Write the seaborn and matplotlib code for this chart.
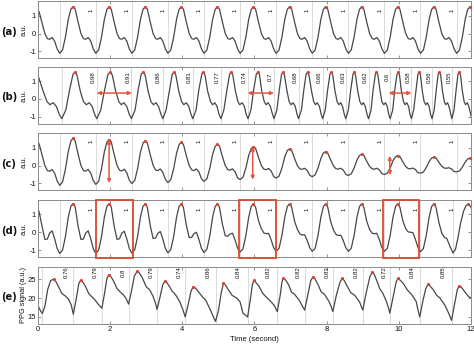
import matplotlib
matplotlib.use("Agg")
import matplotlib.pyplot as plt
import seaborn as sns
from matplotlib.patches import Rectangle

# ---------------- data ----------------
# common time grid for panels (a) and (c): beats with troughs at ~0.6 s + k
time_ac = [
    0.00, 0.03, 0.11, 0.19, 0.26, 0.32, 0.39, 0.46, 0.53,
    0.60, 0.68, 0.76, 0.84, 0.91, 0.97, 1.03, 1.11, 1.19, 1.26, 1.32, 1.39, 1.46, 1.53,
    1.60, 1.68, 1.76, 1.84, 1.91, 1.97, 2.03, 2.11, 2.19, 2.26, 2.32, 2.39, 2.46, 2.53,
    2.60, 2.68, 2.76, 2.84, 2.91, 2.97, 3.03, 3.11, 3.19, 3.26, 3.32, 3.39, 3.46, 3.53,
    3.60, 3.68, 3.76, 3.84, 3.91, 3.97, 4.03, 4.11, 4.19, 4.26, 4.32, 4.39, 4.46, 4.53,
    4.60, 4.68, 4.76, 4.84, 4.91, 4.97, 5.03, 5.11, 5.19, 5.26, 5.32, 5.39, 5.46, 5.53,
    5.60, 5.68, 5.76, 5.84, 5.91, 5.97, 6.03, 6.11, 6.19, 6.26, 6.32, 6.39, 6.46, 6.53,
    6.60, 6.68, 6.76, 6.84, 6.91, 6.97, 7.03, 7.11, 7.19, 7.26, 7.32, 7.39, 7.46, 7.53,
    7.60, 7.68, 7.76, 7.84, 7.91, 7.97, 8.03, 8.11, 8.19, 8.26, 8.32, 8.39, 8.46, 8.53,
    8.60, 8.68, 8.76, 8.84, 8.91, 8.97, 9.03, 9.11, 9.19, 9.26, 9.32, 9.39, 9.46, 9.53,
    9.60, 9.68, 9.76, 9.84, 9.91, 9.97, 10.03, 10.11, 10.19, 10.26, 10.32, 10.39, 10.46, 10.53,
    10.60, 10.68, 10.76, 10.84, 10.91, 10.97, 11.03, 11.11, 11.19, 11.26, 11.32, 11.39, 11.46, 11.53,
    11.60, 11.68, 11.76, 11.84, 11.91, 11.97, 12.03,
]

a_vals = [
    1.30, 1.22, 0.60, 0.00, -0.28, -0.32, -0.22, -0.42, -0.85,
    -1.10, -0.92, -0.20, 0.80, 1.35, 1.50, 1.36, 0.65, 0.00, -0.28, -0.32, -0.22, -0.42, -0.85,
    -1.10, -0.92, -0.20, 0.80, 1.35, 1.50, 1.36, 0.65, 0.00, -0.28, -0.32, -0.22, -0.42, -0.85,
    -1.10, -0.92, -0.20, 0.80, 1.35, 1.50, 1.36, 0.65, 0.00, -0.28, -0.32, -0.22, -0.42, -0.85,
    -1.10, -0.92, -0.20, 0.80, 1.35, 1.50, 1.36, 0.65, 0.00, -0.28, -0.32, -0.22, -0.42, -0.85,
    -1.10, -0.92, -0.20, 0.80, 1.35, 1.50, 1.36, 0.65, 0.00, -0.28, -0.32, -0.22, -0.42, -0.85,
    -1.10, -0.92, -0.20, 0.80, 1.35, 1.50, 1.36, 0.65, 0.00, -0.28, -0.32, -0.22, -0.42, -0.85,
    -1.10, -0.92, -0.20, 0.80, 1.35, 1.50, 1.36, 0.65, 0.00, -0.28, -0.32, -0.22, -0.42, -0.85,
    -1.10, -0.92, -0.20, 0.80, 1.35, 1.50, 1.36, 0.65, 0.00, -0.28, -0.32, -0.22, -0.42, -0.85,
    -1.10, -0.92, -0.20, 0.80, 1.35, 1.50, 1.36, 0.65, 0.00, -0.28, -0.32, -0.22, -0.42, -0.85,
    -1.10, -0.92, -0.20, 0.80, 1.35, 1.50, 1.36, 0.65, 0.00, -0.28, -0.32, -0.22, -0.42, -0.85,
    -1.10, -0.92, -0.20, 0.80, 1.35, 1.50, 1.36, 0.65, 0.00, -0.28, -0.32, -0.22, -0.42, -0.85,
    -1.10, -0.92, -0.20, 0.80, 1.35, 1.50, 1.36,
]

c_vals = [
    1.30, 1.22, 0.60, 0.00, -0.28, -0.32, -0.22, -0.42, -0.85,
    -1.10, -0.92, -0.20, 0.80, 1.36, 1.52, 1.37, 0.65, 0.00, -0.28, -0.31, -0.21, -0.41, -0.83,
    -1.05, -0.88, -0.18, 0.78, 1.31, 1.45, 1.32, 0.63, 0.01, -0.26, -0.30, -0.20, -0.40, -0.81,
    -1.00, -0.84, -0.17, 0.75, 1.25, 1.39, 1.26, 0.61, 0.01, -0.25, -0.28, -0.19, -0.38, -0.77,
    -0.95, -0.79, -0.17, 0.69, 1.17, 1.30, 1.18, 0.56, 0.00, -0.24, -0.28, -0.19, -0.36, -0.73,
    -0.88, -0.74, -0.16, 0.63, 1.07, 1.19, 1.08, 0.51, 0.00, -0.23, -0.26, -0.18, -0.34, -0.68,
    -0.78, -0.65, -0.14, 0.57, 0.95, 1.06, 0.96, 0.46, 0.00, -0.20, -0.23, -0.16, -0.30, -0.60,
    -0.70, -0.59, -0.14, 0.49, 0.84, 0.93, 0.84, 0.40, -0.01, -0.19, -0.21, -0.15, -0.27, -0.54,
    -0.62, -0.52, -0.14, 0.40, 0.70, 0.78, 0.70, 0.32, -0.03, -0.18, -0.20, -0.15, -0.25, -0.49,
    -0.55, -0.47, -0.14, 0.31, 0.56, 0.63, 0.57, 0.24, -0.05, -0.18, -0.20, -0.15, -0.24, -0.44,
    -0.50, -0.43, -0.13, 0.28, 0.50, 0.56, 0.50, 0.21, -0.05, -0.17, -0.18, -0.14, -0.22, -0.40,
    -0.42, -0.36, -0.11, 0.23, 0.42, 0.47, 0.42, 0.18, -0.04, -0.14, -0.15, -0.12, -0.19, -0.33,
    -0.35, -0.30, -0.09, 0.20, 0.37, 0.41, 0.37,
]

d_time = [
    0.00, 0.03, 0.11, 0.19, 0.26, 0.32, 0.39, 0.46, 0.53,
    0.60, 0.68, 0.76, 0.84, 0.91, 0.97, 1.03, 1.11, 1.19, 1.26, 1.32, 1.39, 1.46, 1.53,
    1.60, 1.68, 1.76, 1.84, 1.91, 1.97, 2.03, 2.11, 2.19, 2.26, 2.32, 2.39, 2.46, 2.53,
    2.60, 2.68, 2.76, 2.84, 2.91, 2.97, 3.03, 3.11, 3.19, 3.26, 3.32, 3.39, 3.46, 3.53,
    3.60, 3.68, 3.76, 3.84, 3.91, 3.97, 4.03, 4.11, 4.19, 4.26, 4.32, 4.39, 4.46, 4.53,
    4.60, 4.68, 4.76, 4.84, 4.91, 4.97, 5.03, 5.11, 5.19, 5.26, 5.32, 5.39, 5.46, 5.53,
    5.60, 5.68, 5.76, 5.84, 5.91, 5.97, 6.03, 6.11, 6.19, 6.26, 6.32, 6.39, 6.46, 6.53,
    6.60, 6.68, 6.76, 6.84, 6.91, 6.97, 7.03, 7.11, 7.19, 7.26, 7.32, 7.39, 7.46, 7.53,
    7.60, 7.68, 7.76, 7.84, 7.91, 7.97, 8.03, 8.11, 8.19, 8.26, 8.32, 8.39, 8.46, 8.53,
    8.60, 8.68, 8.76, 8.84, 8.91, 8.97, 9.03, 9.11, 9.19, 9.26, 9.32, 9.39, 9.46, 9.53,
    9.60, 9.68, 9.76, 9.84, 9.91, 9.97, 10.03, 10.11, 10.19, 10.26, 10.32, 10.39, 10.46, 10.53,
    10.60, 10.68, 10.76, 10.84, 10.91, 10.97, 11.03, 11.11, 11.19, 11.26, 11.33, 11.41,
    11.50, 11.57, 11.64, 11.71, 11.79, 11.86, 11.93, 12.00, 12.05,
]

d_vals = [
    1.28, 1.15, 0.35, -0.40, -0.38, -0.05, 0.08, -0.35, -0.90,
    -1.18, -1.00, -0.25, 0.85, 1.45, 1.60, 1.42, 0.35, -0.40, -0.38, -0.05, 0.08, -0.35, -0.90,
    -1.18, -1.00, -0.25, 0.85, 1.45, 1.60, 1.42, 0.35, -0.40, -0.36, -0.05, 0.06, -0.36, -0.90,
    -1.16, -0.98, -0.24, 0.85, 1.45, 1.58, 1.40, 0.38, -0.35, -0.32, -0.06, 0.04, -0.38, -0.90,
    -1.15, -0.97, -0.24, 0.85, 1.44, 1.58, 1.40, 0.40, -0.30, -0.28, -0.08, 0.00, -0.40, -0.90,
    -1.13, -0.95, -0.22, 0.85, 1.44, 1.58, 1.40, 0.45, -0.20, -0.22, -0.10, -0.05, -0.42, -0.88,
    -1.10, -0.93, -0.20, 0.85, 1.44, 1.58, 1.40, 0.65, 0.20, -0.04, -0.08, -0.06, -0.42, -0.85,
    -1.06, -0.90, -0.18, 0.85, 1.44, 1.58, 1.40, 0.62, 0.15, -0.10, -0.15, -0.14, -0.45, -0.86,
    -1.06, -0.90, -0.18, 0.85, 1.44, 1.58, 1.40, 0.60, 0.12, -0.12, -0.18, -0.16, -0.46, -0.86,
    -1.06, -0.90, -0.18, 0.85, 1.44, 1.58, 1.40, 0.62, 0.15, -0.05, -0.08, -0.06, -0.42, -0.86,
    -1.06, -0.90, -0.18, 0.85, 1.44, 1.58, 1.40, 0.65, 0.20, 0.02, 0.00, -0.02, -0.40, -0.85,
    -1.08, -0.91, -0.18, 0.85, 1.44, 1.58, 1.40, 0.55, -0.05, -0.28, -0.35, -0.75,
    -1.16, -0.95, -0.30, 0.50, 1.15, 1.48, 1.58, 1.40, 1.15,
]

b_time = [
    0.00, 0.14, 0.25, 0.33, 0.42, 0.51, 0.59,
    0.66, 0.77, 0.88, 0.97, 1.02, 1.08, 1.17, 1.26, 1.34, 1.42, 1.50, 1.57,
    1.63, 1.74, 1.85, 1.94, 2.00, 2.06, 2.15, 2.24, 2.31, 2.38, 2.46, 2.53,
    2.59, 2.69, 2.78, 2.86, 2.91, 2.97, 3.05, 3.13, 3.20, 3.27, 3.34, 3.41,
    3.46, 3.55, 3.65, 3.72, 3.77, 3.82, 3.90, 3.98, 4.04, 4.11, 4.18, 4.24,
    4.29, 4.38, 4.46, 4.54, 4.58, 4.63, 4.70, 4.78, 4.84, 4.90, 4.96, 5.02,
    5.07, 5.15, 5.24, 5.31, 5.35, 5.40, 5.47, 5.54, 5.59, 5.66, 5.72, 5.77,
    5.82, 5.90, 5.98, 6.05, 6.09, 6.14, 6.20, 6.27, 6.32, 6.38, 6.44, 6.50,
    6.54, 6.62, 6.69, 6.75, 6.79, 6.83, 6.90, 6.96, 7.01, 7.07, 7.13, 7.18,
    7.22, 7.30, 7.37, 7.43, 7.47, 7.51, 7.58, 7.64, 7.69, 7.74, 7.80, 7.85,
    7.89, 7.96, 8.03, 8.09, 8.13, 8.17, 8.23, 8.29, 8.34, 8.39, 8.44, 8.49,
    8.53, 8.60, 8.67, 8.73, 8.76, 8.80, 8.86, 8.92, 8.97, 9.02, 9.07, 9.12,
    9.16, 9.23, 9.29, 9.35, 9.38, 9.42, 9.48, 9.53, 9.58, 9.63, 9.68, 9.72,
    9.76, 9.83, 9.89, 9.95, 9.98, 10.02, 10.07, 10.13, 10.17, 10.22, 10.27, 10.31,
    10.35, 10.41, 10.48, 10.53, 10.56, 10.60, 10.65, 10.70, 10.75, 10.79, 10.84, 10.88,
    10.92, 10.98, 11.04, 11.09, 11.12, 11.16, 11.21, 11.26, 11.30, 11.35, 11.39, 11.44,
    11.47, 11.53, 11.59, 11.64, 11.67, 11.71, 11.76, 11.81, 11.85, 11.90, 11.94, 11.99,
    12.02,
]

b_vals = [
    1.32, 0.45, -0.15, -0.32, -0.21, -0.42, -0.86,
    -1.10, -0.62, 0.55, 1.38, 1.50, 1.33, 0.45, -0.15, -0.32, -0.21, -0.42, -0.86,
    -1.10, -0.62, 0.55, 1.38, 1.50, 1.33, 0.45, -0.15, -0.32, -0.21, -0.42, -0.86,
    -1.10, -0.62, 0.55, 1.38, 1.50, 1.33, 0.45, -0.15, -0.32, -0.21, -0.42, -0.86,
    -1.10, -0.62, 0.55, 1.38, 1.50, 1.33, 0.45, -0.15, -0.32, -0.21, -0.42, -0.86,
    -1.10, -0.62, 0.55, 1.38, 1.50, 1.33, 0.45, -0.15, -0.32, -0.21, -0.42, -0.86,
    -1.10, -0.62, 0.55, 1.38, 1.50, 1.33, 0.45, -0.15, -0.32, -0.21, -0.42, -0.86,
    -1.10, -0.62, 0.55, 1.38, 1.50, 1.33, 0.45, -0.15, -0.32, -0.21, -0.42, -0.86,
    -1.10, -0.62, 0.55, 1.38, 1.50, 1.33, 0.45, -0.15, -0.32, -0.21, -0.42, -0.86,
    -1.10, -0.62, 0.55, 1.38, 1.50, 1.33, 0.45, -0.15, -0.32, -0.21, -0.42, -0.86,
    -1.10, -0.62, 0.55, 1.38, 1.50, 1.33, 0.45, -0.15, -0.32, -0.21, -0.42, -0.86,
    -1.10, -0.62, 0.55, 1.38, 1.50, 1.33, 0.45, -0.15, -0.32, -0.21, -0.42, -0.86,
    -1.10, -0.62, 0.55, 1.38, 1.50, 1.33, 0.45, -0.15, -0.32, -0.21, -0.42, -0.86,
    -1.10, -0.62, 0.55, 1.38, 1.50, 1.33, 0.45, -0.15, -0.32, -0.21, -0.42, -0.86,
    -1.10, -0.62, 0.55, 1.38, 1.50, 1.33, 0.45, -0.15, -0.32, -0.21, -0.42, -0.86,
    -1.10, -0.62, 0.55, 1.38, 1.50, 1.33, 0.45, -0.15, -0.32, -0.21, -0.42, -0.86,
    -1.10, -0.62, 0.55, 1.38, 1.50, 1.33, 0.45, -0.15, -0.32, -0.21, -0.42, -0.86,
    -1.10,
]

e_time = [
    0.00, 0.06, 0.12, 0.19, 0.27, 0.35, 0.43, 0.50, 0.58, 0.66, 0.75, 0.84, 0.92, 0.98,
    1.06, 1.13, 1.18, 1.25, 1.32, 1.41, 1.49, 1.57, 1.65, 1.72, 1.77,
    1.84, 1.91, 1.96, 2.03, 2.10, 2.19, 2.28, 2.36, 2.44, 2.51,
    2.59, 2.67, 2.75, 2.81, 2.89, 3.00, 3.10, 3.19, 3.25, 3.30,
    3.38, 3.46, 3.52, 3.58, 3.65, 3.72, 3.81, 3.93, 4.02, 4.08,
    4.16, 4.24, 4.30, 4.37, 4.45, 4.55, 4.65, 4.78, 4.86, 4.92,
    5.00, 5.08, 5.14, 5.20, 5.26, 5.38, 5.52, 5.60, 5.68, 5.81,
    5.89, 5.94, 5.98, 6.04, 6.12, 6.23, 6.32, 6.45, 6.55, 6.63,
    6.71, 6.76, 6.80, 6.86, 6.94, 7.03, 7.11, 7.24, 7.33, 7.39,
    7.48, 7.56, 7.62, 7.68, 7.76, 7.85, 7.94, 8.07, 8.13, 8.17,
    8.27, 8.37, 8.43, 8.49, 8.56, 8.67, 8.78, 8.91, 8.96, 9.00,
    9.10, 9.20, 9.26, 9.32, 9.39, 9.47, 9.56, 9.66, 9.72, 9.75,
    9.85, 9.93, 9.98, 10.04, 10.12, 10.24, 10.35, 10.48, 10.54, 10.58,
    10.67, 10.75, 10.81, 10.87, 10.94, 11.05, 11.14, 11.27, 11.38, 11.46,
    11.55, 11.62, 11.67, 11.73, 11.80, 11.93, 12.00,
]

e_vals = [
    18.0, 16.8, 15.9, 17.8, 22.3, 24.6, 25.0, 24.3, 22.8, 21.2, 20.6, 19.8, 18.2, 15.7,
    19.8, 23.8, 24.7, 24.1, 23.0, 21.1, 20.4, 19.6, 18.6, 17.8, 17.3,
    21.0, 25.2, 26.2, 25.5, 24.4, 22.5, 21.6, 20.9, 19.9, 18.4,
    21.8, 25.8, 27.1, 26.6, 25.4, 23.0, 22.1, 20.4, 18.8, 17.0,
    20.2, 23.6, 24.5, 24.0, 22.9, 21.8, 20.9, 19.0, 16.8, 15.0,
    18.2, 21.8, 23.0, 22.6, 21.6, 20.4, 19.4, 16.8, 15.0, 13.8,
    16.6, 21.5, 23.9, 23.4, 22.4, 20.7, 19.9, 19.0, 16.0, 15.0,
    20.0, 23.5, 24.7, 24.1, 23.2, 21.2, 20.3, 19.1, 18.0, 16.4,
    20.6, 24.2, 25.3, 24.8, 23.6, 21.5, 21.0, 19.4, 17.8, 16.8,
    21.0, 24.6, 25.6, 25.0, 23.6, 21.6, 21.0, 19.0, 17.6, 16.4,
    20.8, 24.2, 25.2, 24.6, 23.3, 21.4, 20.7, 19.0, 17.8, 16.8,
    21.6, 25.7, 26.9, 26.2, 24.6, 22.5, 21.2, 19.0, 17.2, 16.0,
    20.6, 24.4, 25.2, 24.7, 23.9, 22.1, 21.0, 19.1, 16.5, 15.0,
    19.4, 22.6, 23.6, 23.1, 22.4, 20.7, 20.0, 18.2, 16.0, 14.1,
    18.6, 22.2, 23.2, 22.9, 22.0, 20.4, 20.0,
]

# detected peaks (red dots)
peak_t_ac = [0.97, 1.97, 2.97, 3.97, 4.97, 5.97, 6.97, 7.97, 8.97, 9.97, 10.97, 11.97]
peak_a = [1.50, 1.50, 1.50, 1.50, 1.50, 1.50, 1.50, 1.50, 1.50, 1.50, 1.50, 1.50]
peak_c = [1.52, 1.45, 1.39, 1.30, 1.19, 1.06, 0.93, 0.78, 0.63, 0.56, 0.47, 0.41]
peak_t_d = [0.97, 1.97, 2.97, 3.97, 4.97, 5.97, 6.97, 7.97, 8.97, 9.97, 10.97, 11.93]
peak_d = [1.60, 1.60, 1.58, 1.58, 1.58, 1.58, 1.58, 1.58, 1.58, 1.58, 1.58, 1.58]
peak_t_b = [1.02, 2.00, 2.91, 3.77, 4.58, 5.35, 6.09, 6.79, 7.47, 8.13, 8.76, 9.38,
            9.98, 10.56, 11.12, 11.67]
peak_b = [1.50] * 16
peak_t_e = [0.43, 1.18, 1.96, 2.75, 3.52, 4.30, 5.14, 5.98, 6.80, 7.62, 8.43, 9.26,
            9.98, 10.81, 11.67]
peak_e = [25.0, 24.7, 26.2, 27.1, 24.5, 23.0, 23.9, 24.7, 25.3, 25.6, 25.2, 26.9,
          25.2, 23.6, 23.2]

# beat onsets (gray vertical lines)
onset_ac = [0.60, 1.60, 2.60, 3.60, 4.60, 5.60, 6.60, 7.60, 8.60, 9.60, 10.60, 11.60]
onset_d = [0.60, 1.60, 2.60, 3.60, 4.60, 5.60, 6.60, 7.60, 8.60, 9.60, 10.60, 11.50]
onset_b = [0.66, 1.63, 2.59, 3.46, 4.29, 5.07, 5.82, 6.54, 7.22, 7.89, 8.53, 9.16,
           9.76, 10.35, 10.92, 11.47]
onset_e = [0.12, 0.98, 1.77, 2.51, 3.30, 4.08, 4.92, 5.81, 6.63, 7.39, 8.17, 9.00,
           9.75, 10.58, 11.46]

# interval annotations
ibi_pos_ac = [1.47, 2.47, 3.47, 4.47, 5.47, 6.47, 7.47, 8.47, 9.47, 10.47, 11.47]
ibi_lab_ac = ["1", "1", "1", "1", "1", "1", "1", "1", "1", "1", "1"]
ibi_pos_b = [1.54, 2.49, 3.34, 4.18, 4.98, 5.72, 6.43, 7.13, 7.80, 8.45, 9.08,
             9.69, 10.27, 10.84, 11.40]
ibi_lab_b = ["0.98", "0.91", "0.86", "0.81", "0.77", "0.74", "0.7", "0.68", "0.66",
             "0.63", "0.62", "0.6", "0.58", "0.56", "0.55"]
ibi_pos_e = [0.77, 1.58, 2.35, 3.15, 3.92, 4.73, 5.55, 6.38, 7.20, 8.01, 8.83, 9.60,
             10.38, 11.23]
ibi_lab_e = ["0.76", "0.79", "0.8", "0.79", "0.74", "0.86", "0.84", "0.82", "0.82",
             "0.83", "0.82", "0.72", "0.84", "0.85"]

# red marks
b_arrows = [(1.63, 2.60), (5.81, 6.54), (9.72, 10.35)]
b_arrow_y = 0.33
c_arrows = [(1.97, -0.98, 1.45), (5.95, -0.79, 1.06), (9.75, -0.54, 0.54)]
d_boxes = [(1.62, 2.64), (5.58, 6.60), (9.56, 10.57)]

panel_labels = ["(a)", "(b)", "(c)", "(d)", "(e)"]
x_ticks = [0, 2, 4, 6, 8, 10, 12]

# ---------------- drawing ----------------
sns.set_theme(style="white")
plt.rcParams['font.family'] = ['Liberation Sans', 'DejaVu Sans']
plt.rcParams['axes.unicode_minus'] = False

LINE = '#474747'
RED_DOT = '#e0402c'
RED = '#e65540'
GRID = '#dadada'

W, H = 474, 346
L, R = 38, 471
tops = [1.3, 66.7, 133.3, 200.0, 266.7]
axh = 57
fig = plt.figure(figsize=(W / 100, H / 100), dpi=100)
axes = [fig.add_axes([L / W, 1 - (tp + axh) / H, (R - L) / W, axh / H]) for tp in tops]

ylim_n = (-1.38, 1.80)
ylim_e = (13.2, 28.3)


def style(ax, ylim, yticks, ylabels, show_x):
    ax.set_xlim(0, 12)
    ax.set_ylim(*ylim)
    ax.set_xticks(x_ticks)
    ax.set_yticks(yticks)
    ax.set_yticklabels(ylabels)
    if show_x:
        ax.set_xticklabels([str(v) for v in x_ticks])
    else:
        ax.set_xticklabels([])
    ax.tick_params(direction='in', length=2, width=0.5, color='#666666',
                   labelcolor='#111111', labelsize=5.5, pad=1.5,
                   top=True, right=True, bottom=True, left=True)
    for sp in ax.spines.values():
        sp.set_visible(True)
        sp.set_color('#8a8a8a')
        sp.set_linewidth(0.7)
    ax.set_xlabel('')


def draw_wave(ax, t, v, onsets, ylim, pk_t, pk_v):
    ax.vlines(onsets, ylim[0], ylim[1], colors=GRID, linewidth=0.7, zorder=0)
    sns.lineplot(x=t, y=v, ax=ax, color=LINE, linewidth=0.9, sort=False,
                 estimator=None, legend=False, zorder=2)
    ax.scatter(pk_t, pk_v, s=5, color=RED_DOT, linewidths=0, zorder=3)


def draw_labels(ax, pos, labs, y):
    for x, s in zip(pos, labs):
        ax.text(x, y, s, rotation=90, ha='center', va='center', fontsize=4.3,
                color='#111111', zorder=4)


# (a)
ax = axes[0]
draw_wave(ax, time_ac, a_vals, onset_ac, ylim_n, peak_t_ac, peak_a)
draw_labels(ax, ibi_pos_ac, ibi_lab_ac, 1.30)

# (b)
ax = axes[1]
draw_wave(ax, b_time, b_vals, onset_b, ylim_n, peak_t_b, peak_b)
draw_labels(ax, ibi_pos_b, ibi_lab_b, 1.21)
for x0, x1 in b_arrows:
    ax.annotate('', xy=(x1, b_arrow_y), xytext=(x0, b_arrow_y),
                arrowprops=dict(arrowstyle='<|-|>', color=RED, lw=1.1,
                                mutation_scale=5, shrinkA=0, shrinkB=0), zorder=5)

# (c)
ax = axes[2]
draw_wave(ax, time_ac, c_vals, onset_ac, ylim_n, peak_t_ac, peak_c)
draw_labels(ax, ibi_pos_ac, ibi_lab_ac, 1.35)
for x, y0, y1 in c_arrows:
    ax.annotate('', xy=(x, y1), xytext=(x, y0),
                arrowprops=dict(arrowstyle='<|-|>', color=RED, lw=1.1,
                                mutation_scale=5, shrinkA=0, shrinkB=0), zorder=5)

# (d)
ax = axes[3]
draw_wave(ax, d_time, d_vals, onset_d, ylim_n, peak_t_d, peak_d)
draw_labels(ax, ibi_pos_ac, ibi_lab_ac, 1.30)
for x0, x1 in d_boxes:
    ax.add_patch(Rectangle((x0, ylim_n[0] - 0.04), x1 - x0, ylim_n[1] - ylim_n[0] + 0.06,
                           fill=False, edgecolor='#d94a32', linewidth=1.3,
                           clip_on=False, zorder=5))

# (e)
ax = axes[4]
draw_wave(ax, e_time, e_vals, onset_e, ylim_e, peak_t_e, peak_e)
draw_labels(ax, ibi_pos_e, ibi_lab_e, 26.8)

for i, ax in enumerate(axes[:4]):
    style(ax, ylim_n, [-1, 0, 1], ['-1', '0', '1'], False)
    ax.set_ylabel('a.u.', fontsize=5.5, labelpad=1.0, color='#111111')
style(axes[4], ylim_e, [15, 20, 25], ['15', '20', '25'], True)
axes[4].set_ylabel('PPG signal (a.u.)', fontsize=5.3, labelpad=0.3, color='#111111')
axes[4].set_xlabel('Time (second)', fontsize=5.5, labelpad=2, color='#111111')

for tp, lab in zip(tops, panel_labels):
    fig.text(1.5 / W, 1 - (tp + axh / 2 + 2) / H, lab, fontsize=7.2, fontweight='bold',
             family='DejaVu Sans', ha='left', va='center', color='#111111')

fig.savefig('out.png', dpi=100)
